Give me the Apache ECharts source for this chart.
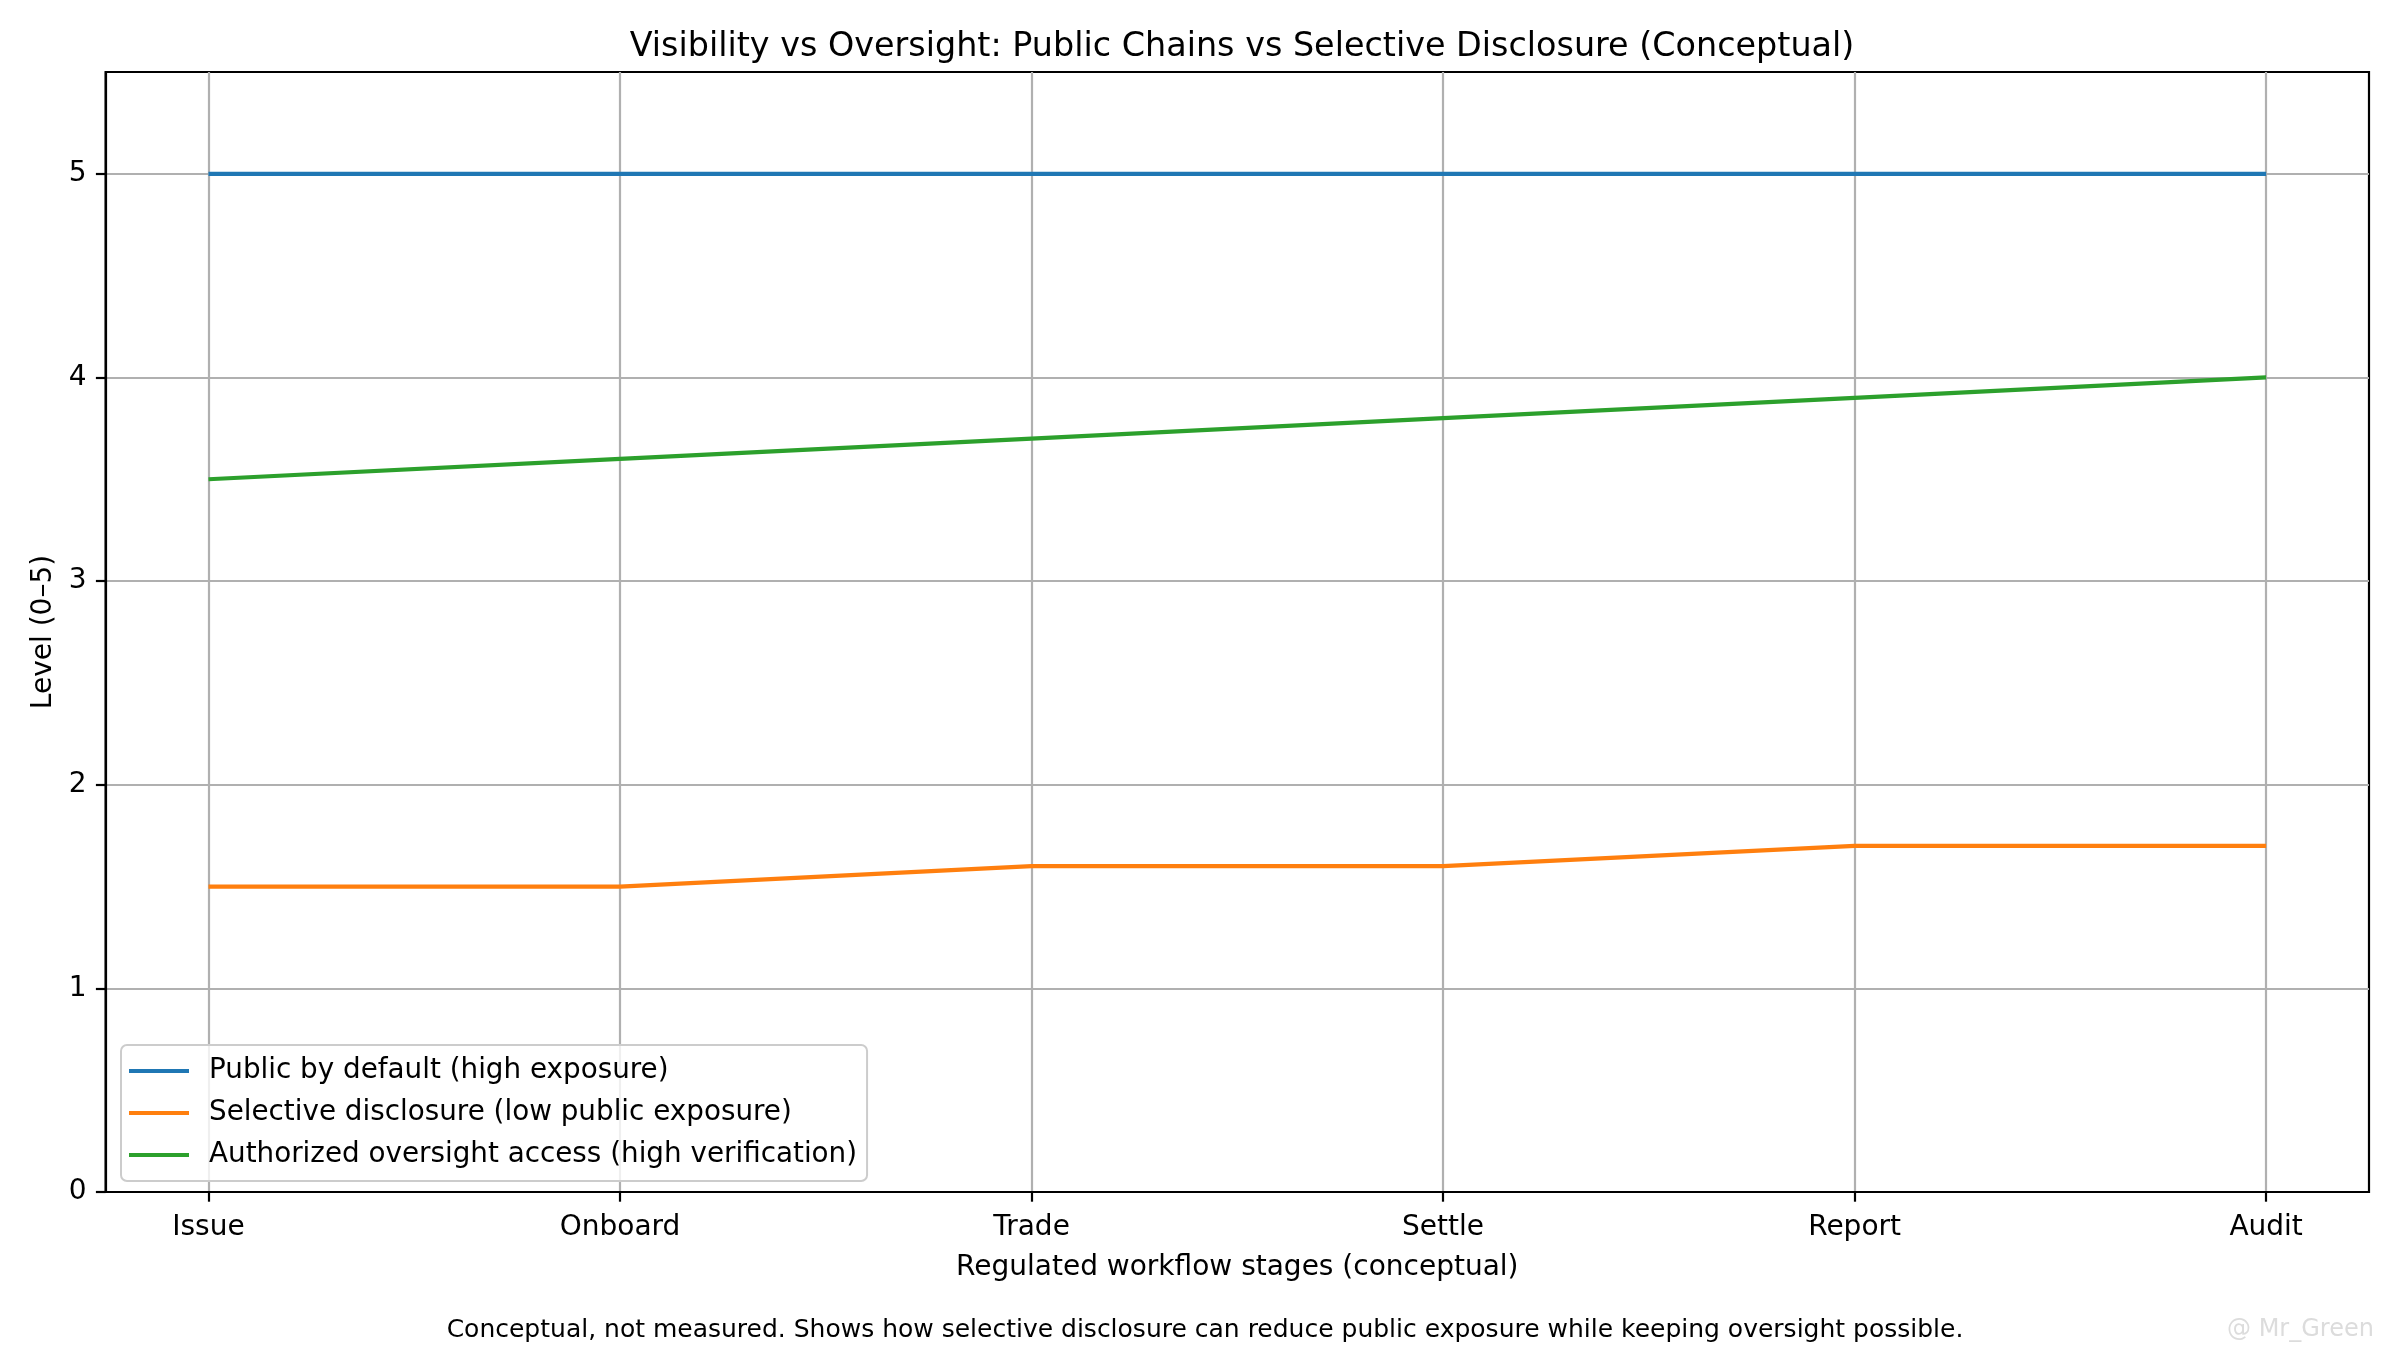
<!DOCTYPE html>
<html>
<head>
<meta charset="utf-8">
<script src="https://cdn.jsdelivr.net/npm/echarts@6/dist/echarts.min.js"></script>
<style>html,body{margin:0;padding:0;background:#fff;}#c{width:2400px;height:1350px;}</style>
</head>
<body>
<div id="c"></div>
<script>
const stages = ["Issue", "Onboard", "Trade", "Settle", "Report", "Audit"];
const publicDefault = [5, 5, 5, 5, 5, 5];
const selective = [1.5, 1.5, 1.6, 1.6, 1.7, 1.7];
const oversight = [3.5, 3.6, 3.7, 3.8, 3.9, 4.0];
const yTicks = [0, 1, 2, 3, 4, 5];
const seriesNames = [
  "Public by default (high exposure)",
  "Selective disclosure (low public exposure)",
  "Authorized oversight access (high verification)"
];
const colors = ["#1f77b4", "#ff7f0e", "#2ca02c"];

const font = "DejaVu Sans";
const chart = echarts.init(document.getElementById('c'));
const toPairs = arr => arr.map((v, i) => [i, v]);
const xIdx = stages.map((s, i) => i);

chart.setOption({
  animation: false,
  backgroundColor: '#fff',
  textStyle: { fontFamily: font },
  title: [{
    text: "Visibility vs Oversight: Public Chains vs Selective Disclosure (Conceptual)",
    left: 1237, top: 26, textAlign: 'center',
    textStyle: { fontFamily: font, fontSize: 33.4, fontWeight: 'normal', color: '#000' }
  }, {
    text: "Conceptual, not measured. Shows how selective disclosure can reduce public exposure while keeping oversight possible.",
    left: 1200, top: 1313, textAlign: 'center',
    textStyle: { fontFamily: font, fontSize: 25, fontWeight: 'normal', color: '#000' }
  }, {
    text: "@ Mr_Green",
    left: 2222, top: 1313,
    textStyle: { fontFamily: font, fontSize: 24, fontWeight: 'normal', color: '#dcdcdc' }
  }],
  grid: {
    left: 105.6, right: 31, top: 72, bottom: 158,
    show: true, borderColor: '#000', borderWidth: 2.2, backgroundColor: 'transparent'
  },
  legend: {
    orient: 'vertical',
    left: 121, top: 1045,
    padding: [10, 10, 10, 8],
    itemGap: 10,
    itemWidth: 60, itemHeight: 4,
    icon: 'rect',
    backgroundColor: 'rgba(255,255,255,0.8)',
    borderColor: '#cccccc', borderWidth: 2, borderRadius: 6,
    textStyle: { fontFamily: font, fontSize: 27.8, color: '#000', lineHeight: 32, padding: [0, 0, 0, 15] },
    data: seriesNames
  },
  xAxis: {
    type: 'value', min: -0.25, max: 5.25,
    axisLine: { show: true, onZero: false, lineStyle: { color: '#000', width: 2.2 } },
    axisTick: { show: true, customValues: xIdx, length: 9.7, lineStyle: { color: '#000', width: 2.2 } },
    axisLabel: { show: true, customValues: xIdx, margin: 22, fontFamily: font, fontSize: 28, color: '#000',
      formatter: v => stages[Math.round(v)] },
    splitLine: { show: true, lineStyle: { color: '#b0b0b0', width: 2.2 } },
    name: "Regulated workflow stages (conceptual)",
    nameLocation: 'middle', nameGap: 62,
    nameTextStyle: { fontFamily: font, fontSize: 28, color: '#000' }
  },
  yAxis: {
    type: 'value', min: 0, max: 5.5,
    axisLine: { show: true, onZero: false, lineStyle: { color: '#000', width: 2.2 } },
    axisTick: { show: true, customValues: yTicks, length: 9.7, lineStyle: { color: '#000', width: 2.2 } },
    axisLabel: { show: true, customValues: yTicks, margin: 19, fontFamily: font, fontSize: 28, color: '#000' },
    splitLine: { show: true, lineStyle: { color: '#b0b0b0', width: 2.2 } },
    name: "Level (0–5)",
    nameLocation: 'middle', nameGap: 48,
    nameTextStyle: { fontFamily: font, fontSize: 28, color: '#000' }
  },
  series: [
    { name: seriesNames[0], type: 'line', data: toPairs(publicDefault), color: colors[0], showSymbol: false, lineStyle: { width: 4.2 } },
    { name: seriesNames[1], type: 'line', data: toPairs(selective), color: colors[1], showSymbol: false, lineStyle: { width: 4.2 } },
    { name: seriesNames[2], type: 'line', data: toPairs(oversight), color: colors[2], showSymbol: false, lineStyle: { width: 4.2 } }
  ]
});
</script>
</body>
</html>
